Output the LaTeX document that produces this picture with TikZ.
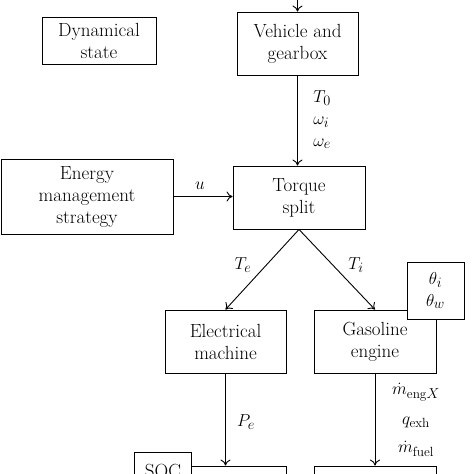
\documentclass[tikz,border=0pt]{standalone}
\usepackage{amsmath}
\usepackage{tikz}
\usetikzlibrary{arrows, arrows.meta, positioning}
\tikzstyle{bloque} = [draw, fill=white, rectangle, align=center, inner sep=0pt, minimum width=121pt, minimum height=63pt]
\tikzstyle{etiqueta} = [inner sep=0pt, align=center]
\tikzstyle{flujo} = [-{To[length=6pt, width=10pt]}]

\begin{document}
\begin{tikzpicture}[x=1pt, y=-1pt, line width=0.9pt, font=\fontsize{19}{22}\selectfont]
	\useasboundingbox (0,0) rectangle (474,474);
	\clip (0,0) rectangle (474,474);
	% bloques
	\node [bloque, minimum width=114pt, minimum height=47pt] (dyn) at (99,40.5) {Dynamical\\state};
	\node [bloque] (vehicle) at (297.5,43.5) {Vehicle and\\gearbox};
	\node [bloque, minimum width=172pt, minimum height=75pt] (ems) at (87,196.5) {Energy\\management\\strategy};
	\node [bloque, minimum width=132pt] (split) at (299,197.5) {Torque\\split};
	\node [bloque] (elec) at (225.5,341.5) {Electrical\\machine};
	\node [bloque, minimum width=122pt] (engine) at (375,341.5) {Gasoline\\engine};
	\node [bloque, minimum width=57pt, minimum height=57pt] (theta) at (435.5,290.5) {$\theta_i$\\$\theta_w$};
	\node [bloque] (battery) at (225.5,497.5) {};
	\node [bloque, minimum width=122pt] (exhaust) at (375,497.5) {};
	\node [bloque, minimum width=57pt, minimum height=38pt, anchor=north] (soc) at (163,452) {SOC};
	% conexiones
	\coordinate (entrada) at (297.5,-5);
	\draw [flujo] (entrada) -- (vehicle.north);
	\draw [flujo] (vehicle.south) -- (vehicle.south |- split.north);
	\draw [flujo] (ems.east) -- (ems.east -| split.west);
	\draw [flujo] (split.south) -- (elec.north);
	\draw [flujo] (split.south) -- (engine.north);
	\draw [flujo] (elec.south) -- (battery.north);
	\draw [flujo] (engine.south) -- (exhaust.north);
	% etiquetas
	\node [etiqueta, align=left, anchor=north west] (estado) at (313,90) {$T_0$\\$\omega_i$\\$\omega_e$};
	\node [etiqueta] (u) at (200,186) {$u$};
	\node [etiqueta] (te) at (243,265) {$T_e$};
	\node [etiqueta] (ti) at (356,265) {$T_i$};
	\node [etiqueta] (pe) at (246,422) {$P_e$};
	\node [etiqueta] (meng) at (416,392) {$\dot{m}_{\text{eng}X}$};
	\node [etiqueta] (qexh) at (416,422) {$q_{\text{exh}}$};
	\node [etiqueta] (mfuel) at (416,449) {$\dot{m}_{\text{fuel}}$};
\end{tikzpicture}
\end{document}
